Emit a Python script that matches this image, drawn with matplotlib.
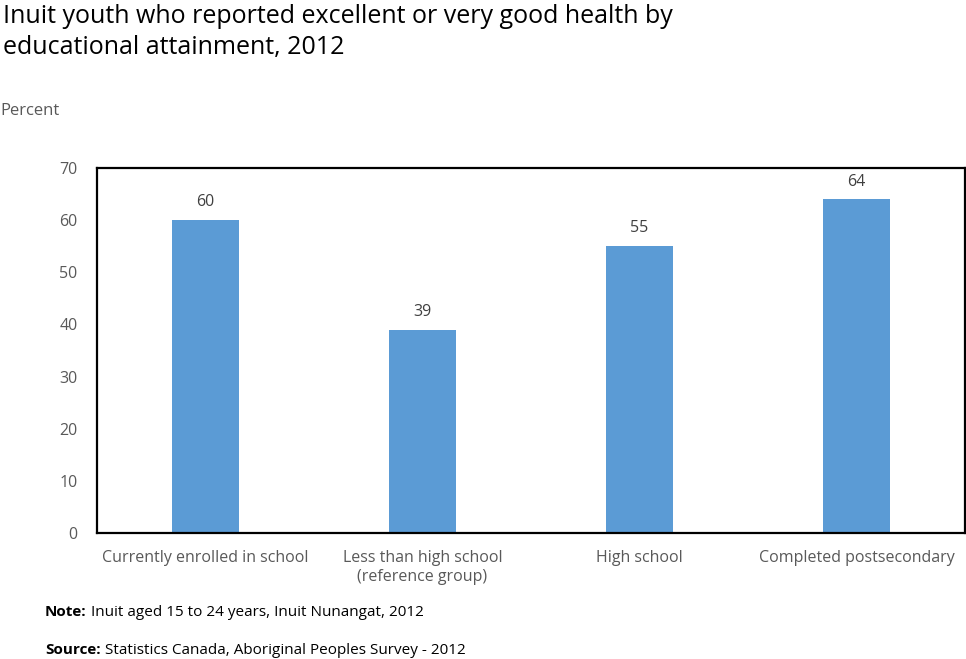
import matplotlib
matplotlib.use("Agg")
import matplotlib.pyplot as plt

categories = ["Currently enrolled in school",
              "Less than high school\n(reference group)",
              "High school",
              "Completed postsecondary"]
values = [60, 39, 55, 64]
y_ticks = [0, 10, 20, 30, 40, 50, 60, 70]

plt.rcParams['font.family'] = ['Open Sans', 'DejaVu Sans']
grey = '#595959'

fig = plt.figure(figsize=(9.66, 6.59), dpi=100)
ax = fig.add_axes([97/966, 1 - 533/659, 868/966, 365/659])

x = range(len(categories))
bars = ax.bar(x, values, width=0.313, color='#5B9BD5')
for b, v in zip(bars, values):
    ax.annotate(str(v), (b.get_x() + b.get_width()/2, v), xytext=(0, 7),
                textcoords='offset points', ha='center', va='bottom',
                fontsize=11.5, color='#404040', zorder=5)

ax.set_xlim(-0.5, len(categories) - 0.5)
ax.set_ylim(0, 70)
ax.set_yticks(y_ticks)
ax.set_xticks(list(x))
ax.set_xticklabels(categories, fontsize=11.5, color=grey, linespacing=1.3)
ax.tick_params(axis='both', length=0, labelsize=11.5, labelcolor=grey)
ax.tick_params(axis='y', pad=14)
ax.tick_params(axis='x', pad=12)
for s in ax.spines.values():
    s.set_linewidth(1.6)
    s.set_color('black')

fig.text(3/966, 1 - 4/659, "Inuit youth who reported excellent or very good health by\neducational attainment, 2012",
         fontsize=18, va='top', ha='left', linespacing=1.3)
fig.text(0/966, 1 - 111/659, "Percent", fontsize=12, color=grey, va='center', ha='left')


# bold lead-ins followed by plain text
def lead(y, head, rest):
    t = fig.text(45/966, 1 - y/659, head, fontsize=11, fontweight='bold', va='center', ha='left')
    fig.canvas.draw()
    bb = t.get_window_extent()
    fig.text((bb.x1 + 4) / 966, 1 - y/659, rest, fontsize=11, va='center', ha='left')


lead(612, "Note:", "Inuit aged 15 to 24 years, Inuit Nunangat, 2012")
lead(650, "Source:", "Statistics Canada, Aboriginal Peoples Survey - 2012")

fig.savefig("out.png", dpi=100)
